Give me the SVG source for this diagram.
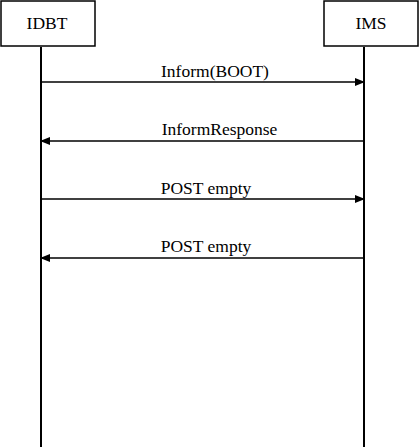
<svg xmlns="http://www.w3.org/2000/svg" width="420" height="447" viewBox="0 0 420 447">
<defs>
<marker id="ah" markerWidth="10" markerHeight="8" refX="9" refY="4" orient="auto" markerUnits="userSpaceOnUse">
<path d="M0,0 L10,4 L0,8 z" fill="#000"/>
</marker>
<style>
.box{fill:#fff;stroke:#000;stroke-width:1.5}
.life{stroke:#000;stroke-width:2}
.msg{stroke:#000;stroke-width:1.5;fill:none;marker-end:url(#ah)}
.t{font-size:17.5px;fill:#000;text-anchor:middle}
</style>
</defs>
<g id="lifelines">
<line class="life" x1="41" y1="47" x2="41" y2="447"/>
<line class="life" x1="364" y1="47" x2="364" y2="447"/>
</g>
<g id="IDBT">
<rect class="box" x="1" y="1" width="94" height="45"/>
<text class="t" font-family="'Liberation Serif', 'DejaVu Serif', serif" x="47" y="29">IDBT</text>
</g>
<g id="IMS">
<rect class="box" x="324" y="1" width="94" height="45"/>
<text class="t" font-family="'Liberation Serif', 'DejaVu Serif', serif" x="371" y="29">IMS</text>
</g>
<g id="connectors">
<line class="msg" x1="41" y1="82" x2="364" y2="82"/>
<line class="msg" x1="364" y1="141" x2="41" y2="141"/>
<line class="msg" x1="41" y1="199" x2="364" y2="199"/>
<line class="msg" x1="364" y1="258" x2="41" y2="258"/>
<text class="t" font-family="'Liberation Serif', 'DejaVu Serif', serif" x="215" y="77">Inform(BOOT)</text>
<text class="t" font-family="'Liberation Serif', 'DejaVu Serif', serif" x="219.5" y="135">InformResponse</text>
<text class="t" font-family="'Liberation Serif', 'DejaVu Serif', serif" x="206" y="194">POST empty</text>
<text class="t" font-family="'Liberation Serif', 'DejaVu Serif', serif" x="206" y="252">POST empty</text>
</g>
</svg>
